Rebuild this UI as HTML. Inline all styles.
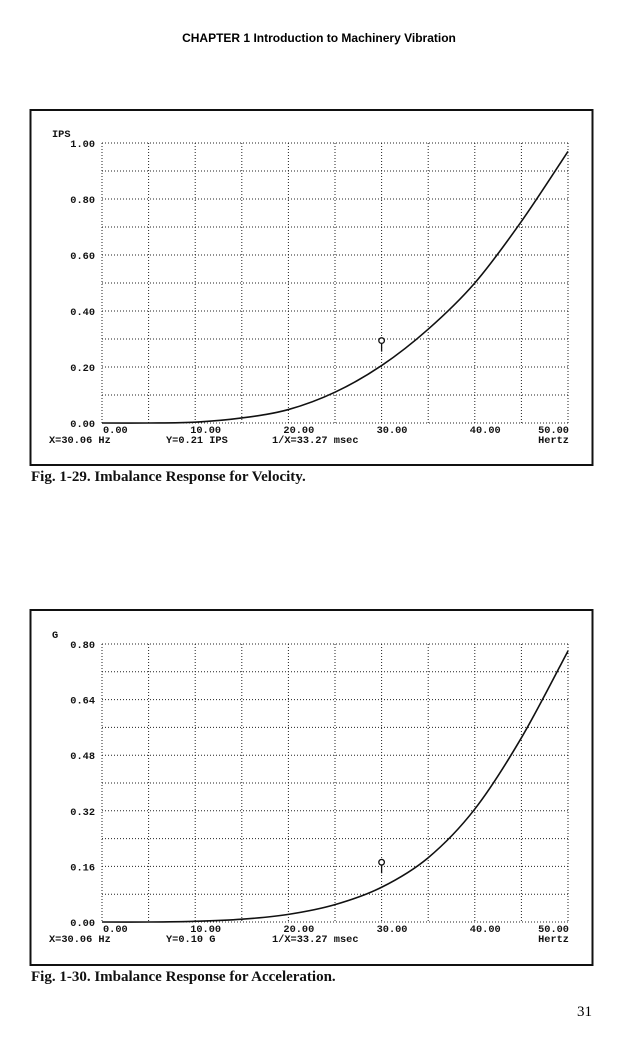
<!DOCTYPE html>
<html><head><meta charset="utf-8">
<style>
html,body{margin:0;padding:0;background:#fff;width:638px;height:1038px;overflow:hidden}
svg{display:block}
.mono{font-family:"Liberation Mono",monospace;font-weight:bold;font-size:10.3px;fill:#111}
.cap{font-family:"Liberation Serif",serif;font-weight:bold;font-size:15px;fill:#111}
</style></head>
<body>
<svg id="page" width="638" height="1038" viewBox="0 0 638 1038" xmlns="http://www.w3.org/2000/svg">
<text x="319" y="42" text-anchor="middle" style="font-family:'Liberation Sans',sans-serif;font-weight:bold;font-size:12px">CHAPTER 1  Introduction to Machinery Vibration</text>
<text x="592" y="1016" text-anchor="end" style="font-family:'Liberation Serif',serif;font-size:15px">31</text>
<g id="c1"></g>
<g id="c2"></g>
</svg>
<script>
// shared x data (Hz)
const freqs=[0,5,10,15,20,25,30,35,40,45,50];
const xTicks=["0.00","10.00","20.00","30.00","40.00","50.00"];
// velocity chart
const velValues=[0,0,0.003,0.018,0.048,0.11,0.205,0.335,0.5,0.72,0.97];
const velTicks=["0.00","0.20","0.40","0.60","0.80","1.00"];
const velMax=1.0;
// acceleration chart
const accValues=[0,0,0.002,0.008,0.022,0.05,0.10,0.185,0.325,0.53,0.78];
const accTicks=["0.00","0.16","0.32","0.48","0.64","0.80"];
const accMax=0.8;

const NS="http://www.w3.org/2000/svg";
function mk(p,tag,at){const e=document.createElementNS(NS,tag);for(const k in at)e.setAttribute(k,at[k]);p.appendChild(e);return e;}

function chart(gid,boxTop,boxBot,plotTop,plotBot,unit,ticks,vals,ymax,readout,caption){
  const g=document.getElementById(gid);
  const L=102,R=568;
  const xs=v=>L+(v/50)*(R-L);
  const ys=v=>plotBot-(v/ymax)*(plotBot-plotTop);
  const box=mk(g,'rect',{x:30.5,y:boxTop,width:562,height:boxBot-boxTop,fill:'none',stroke:'#111','stroke-width':2});
  
  
  for(let i=0;i<=10;i++){
    const x=xs(i*5);
    const l=mk(g,'line',{x1:x,x2:x,y1:plotTop,y2:plotBot,stroke:'#222','stroke-width':1,'stroke-dasharray':'1 2'});
    
    
  }
  for(let i=0;i<=10;i++){
    const y=ys(ymax*i/10);
    const l=mk(g,'line',{x1:L,x2:R,y1:y,y2:y,stroke:'#222','stroke-width':1,'stroke-dasharray':'1 2'});
    
    
  }
  ticks.forEach((t,i)=>{
    const tx=mk(g,'text',{x:95,y:ys(ymax*i/5)+4,'text-anchor':'end',class:'mono'});tx.textContent=t;
    
    
  });
  const ut=mk(g,'text',{x:52,y:plotTop-6,class:'mono'});ut.textContent=unit;
  
  
  xTicks.forEach((t,i)=>{
    const last=i==xTicks.length-1;
    const x=i==0?xs(0)+1:(last?xs(50)+1:xs(i*10)-5);
    const tx=mk(g,'text',{x:x,y:plotBot+10,'text-anchor':last?'end':'start',class:'mono'});tx.textContent=t;
    
    
  });
  const rd=[[49,readout[0]],[166,readout[1]],[272,readout[2]]];
  rd.forEach(r=>{const tx=mk(g,'text',{x:r[0],y:plotBot+20,class:'mono'});tx.textContent=r[1];
    
    });
  const hz=mk(g,'text',{x:569,y:plotBot+20,'text-anchor':'end',class:'mono'});hz.textContent='Hertz';
  
  
  const pts=freqs.map((f,i)=>[xs(f),ys(vals[i])]);
  let d='M'+pts[0][0]+','+pts[0][1];
  for(let i=0;i<pts.length-1;i++){
    const p0=pts[Math.max(0,i-1)],p1=pts[i],p2=pts[i+1],p3=pts[Math.min(pts.length-1,i+2)];
    d+=` C${p1[0]+(p2[0]-p0[0])/6},${p1[1]+(p2[1]-p0[1])/6} ${p2[0]-(p3[0]-p1[0])/6},${p2[1]-(p3[1]-p1[1])/6} ${p2[0]},${p2[1]}`;
  }
  const c=mk(g,'path',{d:d,fill:'none',stroke:'#111','stroke-width':1.6});
  
  
  const cx=xs(30),cy=ys(vals[6]);
  const cur=mk(g,'g',{});
  
  
  mk(cur,'line',{x1:cx,x2:cx,y1:cy-22,y2:cy-14,stroke:'#111','stroke-width':1.3});
  mk(cur,'circle',{cx:cx,cy:cy-25,r:2.8,fill:'#fff',stroke:'#111','stroke-width':1.3});
  const cp=mk(g,'text',{x:31,y:boxBot+16,class:'cap'});cp.textContent=caption;
  
  
}
chart('c1',110,465,143,423,'IPS',velTicks,velValues,velMax,['X=30.06 Hz','Y=0.21 IPS','1/X=33.27 msec'],'Fig. 1-29.  Imbalance Response for Velocity.');
chart('c2',610,965,644,922,'G',accTicks,accValues,accMax,['X=30.06 Hz','Y=0.10 G','1/X=33.27 msec'],'Fig. 1-30.  Imbalance Response for Acceleration.');
</script>
</body></html>
